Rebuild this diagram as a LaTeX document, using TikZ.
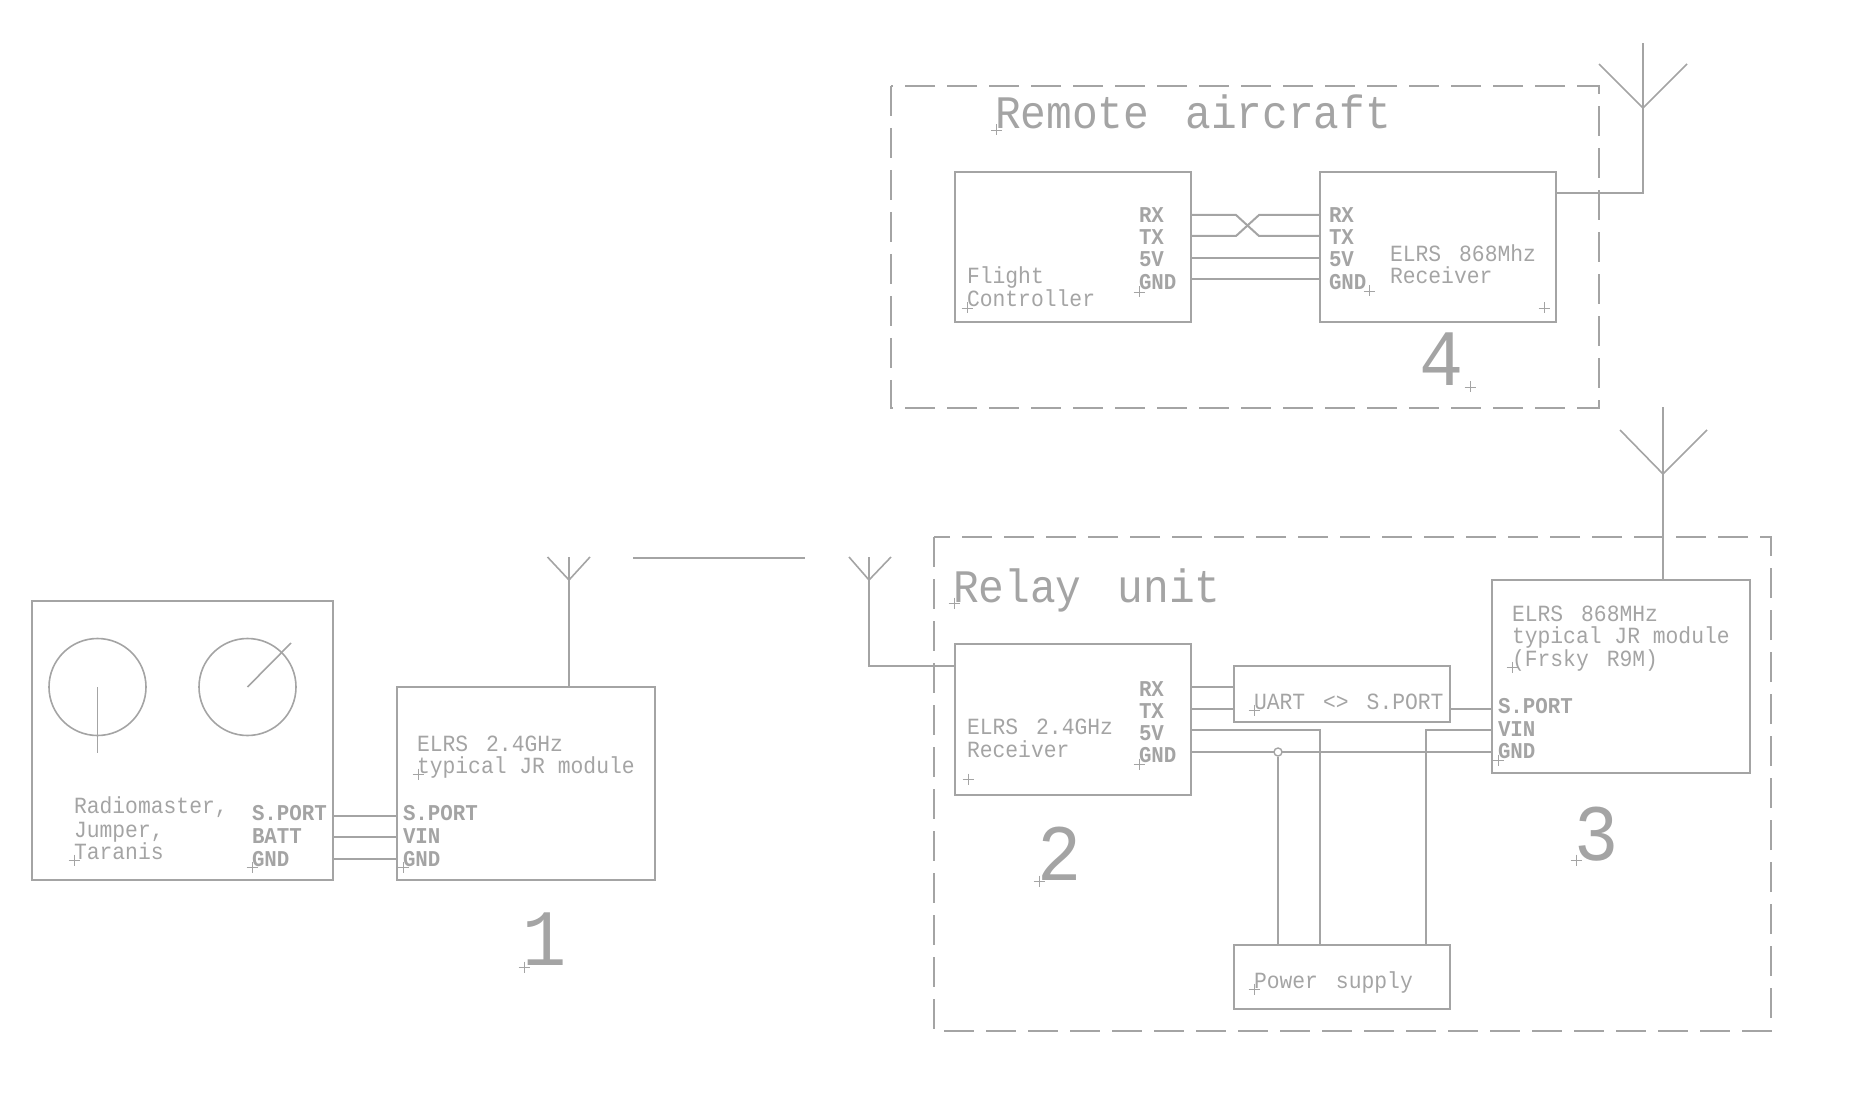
\documentclass[tikz,border=0pt]{standalone}
\usepackage{fontspec}
\setmainfont{Liberation Mono}[FakeStretch=0.92,WordSpace=1.4]
\definecolor{lc}{HTML}{A4A4A4}
\newcommand\fnorm{\fontsize{11.6}{14}\selectfont}
\newcommand\ftight{\fontsize{11.6}{14}\selectfont\spaceskip=6.4pt\relax}
\newcommand\fbold{\fontsize{11.3}{14}\bfseries\selectfont}
\newcommand\fbig{\fontsize{23.3}{28}\selectfont}
\newcommand\fnum{\fontsize{40}{44}\selectfont}
\tikzset{
  x=0.5pt,y=-0.5pt,
  box/.style={draw=lc,line width=1pt,inner sep=0pt,outer sep=0pt,fill=none},
  wire/.style={draw=lc,line width=1pt},
  thinw/.style={draw=lc,line width=.8pt},
  dashbox/.style={draw=lc,line width=1pt,dash pattern=on 15pt off 6pt},
  tk/.style={draw=lc,line width=.4pt},
  txt/.style={anchor=base west,inner sep=0pt,outer sep=0pt,text=lc},
  norm/.style={txt,font=\fnorm},
  tight/.style={txt,font=\ftight},
  bld/.style={txt,font=\fbold},
  big/.style={txt,font=\fbig},
  num/.style={txt,font=\fnum},
}
% name, x1, y1, x2, y2, extra
\newcommand\pbox[6][]{%
  \path ({(#3+#5)/2},{(#4+#6)/2}) node[box,#1,minimum width={(#5-#3)*0.5pt},minimum height={(#6-#4)*0.5pt}] (#2) {};}
\newcommand\tick[2]{\draw[tk] ({#1-5.5},#2) -- ({#1+5.5},#2) (#1,{#2-5.5}) -- (#1,{#2+5.5});}
\begin{document}
\begin{tikzpicture}
\useasboundingbox (0,0) rectangle (1862,1096);
% dashed frames
\draw[dashbox] (891,86) rectangle (1599,408);
\draw[dashbox] (934,537) rectangle (1771,1031);
% boxes
\pbox{radio}{32}{601}{333}{880}
\pbox{modA}{397}{687}{655}{880}
\pbox{fc}{955}{172}{1191}{322}
\pbox{rxB}{1320}{172}{1556}{322}
\pbox{rxA}{955}{644}{1191}{795}
\pbox{uart}{1234}{666}{1450}{722}
\pbox{modB}{1492}{580}{1750}{773}
\pbox[line width=.8pt]{psu}{1234}{945}{1450}{1009}
% radio sticks
\node[draw=lc,line width=.8pt,circle,inner sep=0pt,minimum size=48.5pt] (gimA) at (97.5,687) {};
\node[draw=lc,line width=.8pt,circle,inner sep=0pt,minimum size=48.5pt] (gimB) at (247.5,687) {};
\draw[thinw] (gimA.center) -- ++(0,66);
\draw[thinw] (gimB.center) -- ++(43.5,-44);
% radio to module 1
\draw[wire] (radio.east |- 0,816) -- (modA.west |- 0,816);
\draw[wire] (radio.east |- 0,837) -- (modA.west |- 0,837);
\draw[wire] (radio.east |- 0,859) -- (modA.west |- 0,859);
% antenna 1
\coordinate (a1top) at (569,557);
\coordinate (a1tip) at (569,580);
\draw[thinw] (modA.north -| a1top) -- (a1top);
\draw[thinw] (547.5,557) -- (a1tip) -- (590,557);
% free link line
\coordinate (linkL) at (633,558);
\coordinate (linkR) at (805,558);
\draw[thinw] (linkL) -- (linkR);
% antenna 2
\coordinate (a2top) at (869,557);
\coordinate (a2tip) at (869,580);
\draw[thinw] (rxA.west |- 0,666) -| (a2top);
\draw[thinw] (849,557) -- (a2tip) -- (891,557);
% antenna 3
\coordinate (a3top) at (1663,407);
\coordinate (a3tip) at (1663,474);
\draw[thinw] (modB.north -| a3top) -- (a3top);
\draw[thinw] (1620,430) -- (a3tip) -- (1707,430);
% antenna 4
\coordinate (a4top) at (1643,43);
\coordinate (a4tip) at (1643,108);
\draw[thinw] (rxB.east |- 0,193) -| (a4top);
\draw[thinw] (1599,64) -- (a4tip) -- (1687,64);
% FC to receiver
\draw[wire] (fc.east |- 0,215) -- (1236,215) -- (1259,236) -- (rxB.west |- 0,236);
\draw[wire] (fc.east |- 0,236) -- (1236,236) -- (1259,215) -- (rxB.west |- 0,215);
\draw[wire] (fc.east |- 0,258) -- (rxB.west |- 0,258);
\draw[wire] (fc.east |- 0,279) -- (rxB.west |- 0,279);
% relay wiring
\draw[wire] (rxA.east |- 0,687) -- (uart.west |- 0,687);
\draw[wire] (rxA.east |- 0,709) -- (uart.west |- 0,709);
\draw[wire] (uart.east |- 0,709) -- (modB.west |- 0,709);
\draw[wire] (rxA.east |- 0,730) -| (psu.north -| 1320,0);
\draw[wire] (modB.west |- 0,730) -| (psu.north -| 1426,0);
\draw[wire] (rxA.east |- 0,752) -- (modB.west |- 0,752);
\node[draw=lc,line width=.7pt,circle,inner sep=0pt,minimum size=4pt,fill=white] (jn) at (1278,752) {};
\draw[thinw] (jn.south) -- (psu.north -| jn);
% text
\node[big] (tRemote) at (995,129) {Remote aircraft};
\node[big] (tRelay) at (953,602) {Relay unit};
\node[num] (n1) at (522,965) {1};
\node[num] (n2) at (1037,880) {2};
\node[num] (n3) at (1574,860) {3};
\node[num] (n4) at (1419,386) {4};
\node[norm] (t01) at (967,284) {Flight};
\node[norm] (t02) at (967,307) {Controller};
\node[norm] (t03) at (1390,262) {ELRS 868Mhz};
\node[norm] (t04) at (1390,284) {Receiver};
\node[norm] (t05) at (967,734) {ELRS 2.4GHz};
\node[norm] (t06) at (967,757) {Receiver};
\node[norm] (t07) at (1254,709) {UART <> S.PORT};
\node[norm] (t08) at (1512,621) {ELRS 868MHz};
\node[tight] (t09) at (1512,643) {typical JR module};
\node[norm] (t10) at (1512,666) {(Frsky R9M)};
\node[norm] (t11) at (1254,988) {Power supply};
\node[norm] (t12) at (74,813) {Radiomaster,};
\node[norm] (t13) at (74,837) {Jumper,};
\node[norm] (t14) at (74,859) {Taranis};
\node[norm] (t15) at (417,751) {ELRS 2.4GHz};
\node[tight] (t16) at (417,773) {typical JR module};
% pin labels
\node[bld] (p01) at (1139,223) {RX};
\node[bld] (p02) at (1139,245) {TX};
\node[bld] (p03) at (1139,267) {5V};
\node[bld] (p04) at (1139,290) {GND};
\node[bld] (p05) at (1329,223) {RX};
\node[bld] (p06) at (1329,245) {TX};
\node[bld] (p07) at (1329,267) {5V};
\node[bld] (p08) at (1329,290) {GND};
\node[bld] (p09) at (1139,696) {RX};
\node[bld] (p10) at (1139,718) {TX};
\node[bld] (p11) at (1139,740) {5V};
\node[bld] (p12) at (1139,762) {GND};
\node[bld] (p13) at (1498,713) {S.PORT};
\node[bld] (p14) at (1498,736) {VIN};
\node[bld] (p15) at (1498,758) {GND};
\node[bld] (p16) at (252,820) {S.PORT};
\node[bld] (p17) at (252,843) {BATT};
\node[bld] (p18) at (252,866) {GND};
\node[bld] (p19) at (403,820) {S.PORT};
\node[bld] (p20) at (403,843) {VIN};
\node[bld] (p21) at (403,866) {GND};
% anchor crosses
\tick{996.5}{130}\tick{954}{603}\tick{967}{308}\tick{1139}{292}\tick{1369}{291}\tick{1544}{308}\tick{1470}{387}
\tick{968}{779}\tick{1139}{764}\tick{1254}{710}\tick{1512}{667}\tick{1498}{760}\tick{1254}{989}\tick{1039}{881}\tick{1576}{860}
\tick{74}{860}\tick{252}{867}\tick{403}{867}\tick{418}{774}\tick{524}{967}
\end{tikzpicture}
\end{document}
